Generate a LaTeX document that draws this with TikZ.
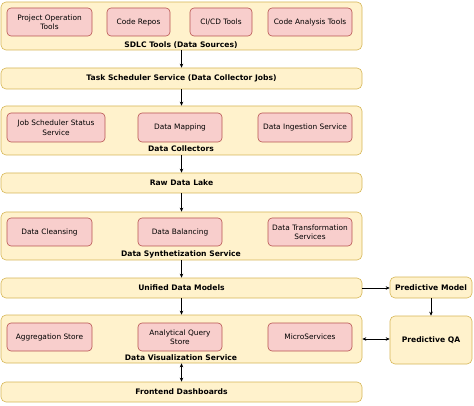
\documentclass[tikz,border=0pt]{standalone}
\usepackage{fontspec}
\setmainfont{DejaVu Sans}
\usetikzlibrary{arrows.meta}
\definecolor{yfill}{HTML}{FFF2CC}
\definecolor{ydraw}{HTML}{D6B656}
\definecolor{rfill}{HTML}{F8CECC}
\definecolor{rdraw}{HTML}{B85450}
\begin{document}
\begin{tikzpicture}[x=1pt,y=-1pt,
 outer/.style={draw=ydraw, fill=yfill, rounded corners=5pt, line width=0.6pt, inner sep=0, font=\fontsize{7.6}{9}\selectfont\bfseries},
 inner/.style={draw=rdraw, fill=rfill, rounded corners=4pt, line width=0.6pt, inner sep=0, align=center, font=\fontsize{7.4}{9.5}\selectfont},
 ttl/.style={font=\fontsize{7.6}{9}\selectfont\bfseries, inner sep=0},
 arr/.style={-{Stealth[length=4pt,width=3.5pt]}, line width=0.7pt},
 darr/.style={{Stealth[length=4pt,width=3.5pt]}-{Stealth[length=4pt,width=3.5pt]}, line width=0.7pt}]
\useasboundingbox (0,0) rectangle (474,406);
% Row 1
\node[outer, minimum width=361pt, minimum height=48pt] (sdlc) at (181.5,26) {};
\node[inner, minimum width=85pt, minimum height=28pt] (po) at (49.5,22) {Project Operation\\Tools};
\node[inner, minimum width=63pt, minimum height=28pt] (cr) at (138.5,22) {Code Repos};
\node[inner, minimum width=62pt, minimum height=28pt] (ci) at (221,22) {CI/CD Tools};
\node[inner, minimum width=84pt, minimum height=28pt] (ca) at (310,22) {Code Analysis Tools};
\node[ttl] (sdlcT) at (181,45) {SDLC Tools (Data Sources)};
% Row 2
\node[outer, minimum width=361pt, minimum height=21pt] (task) at (181.5,78.5) {Task Scheduler Service (Data Collector Jobs)};
% Row 3
\node[outer, minimum width=361pt, minimum height=49pt] (coll) at (181.5,130.5) {};
\node[inner, minimum width=98pt, minimum height=29pt] (js) at (56,127.5) {Job Scheduler Status\\Service};
\node[inner, minimum width=84pt, minimum height=29pt] (dm) at (180,127.5) {Data Mapping};
\node[inner, minimum width=94pt, minimum height=29pt] (di) at (305,127.5) {Data Ingestion Service};
\node[ttl] (collT) at (181,149) {Data Collectors};
% Row 4
\node[outer, minimum width=361pt, minimum height=20pt] (raw) at (181.5,183) {Raw Data Lake};
% Row 5
\node[outer, minimum width=361pt, minimum height=48pt] (syn) at (181.5,236) {};
\node[inner, minimum width=85pt, minimum height=28pt] (dc) at (49.5,232) {Data Cleansing};
\node[inner, minimum width=84pt, minimum height=28pt] (db) at (180,232) {Data Balancing};
\node[inner, minimum width=84pt, minimum height=28pt] (dt) at (310,232) {Data Transformation\\Services};
\node[ttl] (synT) at (181,254) {Data Synthetization Service};
% Row 6
\node[outer, minimum width=361pt, minimum height=20pt] (uni) at (181.5,288) {Unified Data Models};
\node[outer, minimum width=82pt, minimum height=21pt] (pm) at (431,287.5) {Predictive Model};
% Row 7
\node[outer, minimum width=361pt, minimum height=48pt] (viz) at (181.5,339) {};
\node[inner, minimum width=85pt, minimum height=28pt] (as) at (49.5,337) {Aggregation Store};
\node[inner, minimum width=84pt, minimum height=28pt] (aq) at (180,337) {Analytical Query\\Store};
\node[inner, minimum width=84pt, minimum height=28pt] (ms) at (310,337) {MicroServices};
\node[ttl] (vizT) at (181,358) {Data Visualization Service};
\node[outer, minimum width=82pt, minimum height=48pt] (pqa) at (431,340) {Predictive QA};
% Row 8
\node[outer, minimum width=361pt, minimum height=20pt] (fe) at (181.5,392) {Frontend Dashboards};
% Connectors
\draw[arr] (sdlc) -- (task);
\draw[arr] (task) -- (coll);
\draw[arr] (coll) -- (raw);
\draw[arr] (raw) -- (syn);
\draw[arr] (syn) -- (uni);
\draw[arr] (uni) -- (viz);
\draw[darr] (viz) -- (fe);
\draw[arr] (uni.east) -- (uni.east -| pm.west);
\draw[arr] (pm) -- (pqa);
\draw[darr] (viz.east) -- (viz.east -| pqa.west);
\end{tikzpicture}
\end{document}
